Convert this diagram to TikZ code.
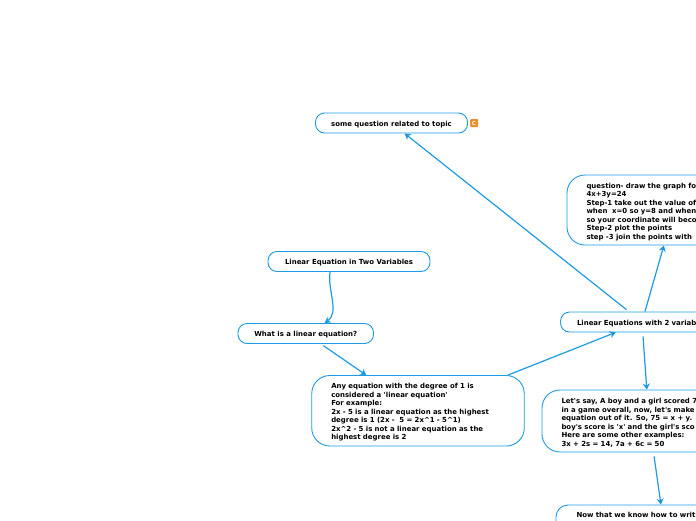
\documentclass[tikz,border=0pt]{standalone}
\usepackage{fontspec}
\setmainfont{DejaVu Sans}
\usetikzlibrary{arrows.meta}
\definecolor{linkblue}{HTML}{1C9BE6}
\definecolor{iconorange}{HTML}{F28C28}
\newcommand{\toppad}{\rule{0pt}{8.6pt}}
\newcommand{\sq}{\textquotesingle}
\tikzset{
  topic/.style={draw=linkblue,line width=0.9pt,rounded corners=9pt,fill=white,text=black,
    font=\fontsize{6.95}{8.5}\selectfont\bfseries,minimum height=20pt,inner sep=0pt},
  single/.style={topic,text height=7.5pt,text depth=1.5pt},
  note/.style={topic,rounded corners=18pt,align=left,anchor=center},
  link/.style={draw=linkblue,line width=1.2pt,-{Stealth[length=6pt,width=7pt]}}
}
\begin{document}
\begin{tikzpicture}[x=1pt,y=-1pt]
  \useasboundingbox (0,0) rectangle (696,520);
  \clip (0,0) rectangle (696,520);
  \begin{scope}
    \node[single,minimum width=152pt] (question) at (391.5,123) {some question related to topic};
    \node[single,minimum width=162pt] (twovars) at (349,261.5) {Linear Equation in Two Variables};
    \node[single,minimum width=135.5pt] (whatis) at (305.75,333.5) {What is a linear equation?};
    \node[note,minimum height=70.5pt,text width=173.5pt,inner xsep=19.5pt] (anyeq) at (418,410.75)
      {\toppad Any equation with the degree of 1 is\\
       considered a \sq linear equation\sq\\
       For example:\\
       2x - 5 is a linear equation as the highest\\
       degree is 1 (2x -~ 5 = 2x\^{}1 - 5\^{}1)\\
       2x\^{}2 - 5 is not a linear equation as the\\
       highest degree is 2};
    \node[single,minimum width=163pt,text width=130pt,align=left,inner xsep=16.5pt] (main) at (642,322)
      {Linear Equations with 2 variab};
    \node[note,minimum height=70pt,text width=175pt,inner xsep=19.5pt] (graph) at (674,210)
      {\toppad question- draw the graph fo\\
       4x+3y=24\\
       Step-1 take out the value of\\
       when~ x=0 so y=8 and when\\
       so your coordinate will beco\\
       Step-2 plot the points\\
       step -3 join the points with};
    \node[note,minimum height=62pt,text width=175pt,inner xsep=19.5pt] (example) at (649,421)
      {\toppad Let\sq s say, A boy and a girl scored 7\\
       in a game overall, now, let\sq s make\\
       equation out of it. So, 75 = x + y. I\\
       boy\sq s score is \sq x\sq\ and the girl\sq s sco\\
       Here are some other examples:\\
       3x + 2s = 14, 7a + 6c = 50};
    \node[note,rounded corners=12pt,minimum height=28pt,minimum width=214pt,text width=173pt,inner xsep=20.5pt] (knowhow) at (663,519)
      {\toppad Now that we know how to writ\\ \strut};
    \node[fill=iconorange,rounded corners=1pt,text=white,minimum size=8pt,inner sep=0pt,
      font=\fontsize{5.5}{6}\selectfont\bfseries] (icon) at (474,123) {C};
  \end{scope}
  \begin{scope}
    \path[link,shorten <=3pt] (main) edge (question);
    \path[link,shorten <=0pt] (main) edge (graph);
    \path[link,shorten <=4pt] (main) edge (example);
    \path[link,shorten <=4pt] (example) edge (knowhow);
    \path[link] (anyeq) edge (main);
    \path[link,shorten <=3pt] (whatis) edge (anyeq);
    \draw[link] (twovars.209) .. controls (327,290) and (340,312) .. (whatis.29);
  \end{scope}
\end{tikzpicture}
\end{document}
